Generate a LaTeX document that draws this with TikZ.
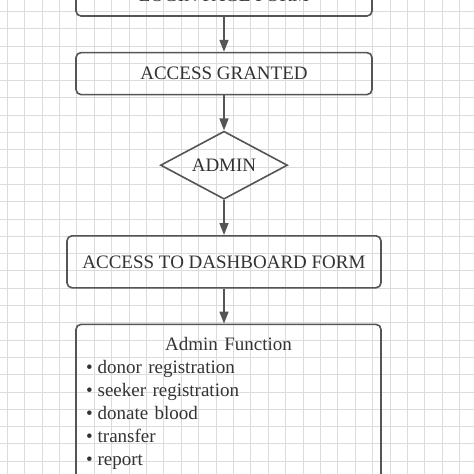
\documentclass[tikz,border=0pt]{standalone}
\usepackage{fontspec}
\setmainfont{Liberation Serif}
\usepackage{tikz}
\usetikzlibrary{positioning, calc, shapes.geometric, arrows.meta}

\definecolor{linegray}{HTML}{555555}
\definecolor{textgray}{HTML}{333333}
\definecolor{gridgray}{HTML}{DCDCDC}

\begin{document}
\begin{tikzpicture}[x=1pt, y=-1pt, node distance=35pt, auto, thick]
        % Define block styles
        \tikzstyle{block} = [rectangle, draw=linegray, line width=1.6pt, text=textgray, text centered, rounded corners=5pt, minimum width=296pt, minimum height=42pt, font=\fontsize{19}{23}\selectfont]
        \tikzstyle{choice} = [diamond, draw=linegray, line width=1.6pt, text=textgray, shape aspect=2, minimum width=127pt, minimum height=68pt, inner sep=0pt, font=\fontsize{19}{23}\selectfont]
        \tikzstyle{arrow} = [-{Triangle[length=12pt, width=9pt]}, draw=linegray, fill=linegray, line width=1.6pt]

        \clip (0,0) rectangle (474,474);
        \fill[white] (0,0) rectangle (474,474);

        % Background grid
        \foreach \gx in {0,...,27} \draw[gridgray, line width=0.6pt] (7+\gx*17.4,0) -- ++(0,474);
        \foreach \gy in {0,...,27} \draw[gridgray, line width=0.6pt] (0,11.2+\gy*17.3) -- ++(474,0);

        % Place nodes
        \node [block] (login) at (224,-5) {LOGIN PAGE FORM};
        \node [block, below=of login] (granted) {ACCESS GRANTED};
        \node [choice, below=of granted] (admin) {ADMIN};
        \node [block, below=of admin, minimum width=314pt, minimum height=52pt] (dash) {ACCESS TO DASHBOARD FORM};
        \node [block, below=of dash, xshift=4.5pt, minimum width=305pt, text width=285pt, align=left, inner xsep=10pt, inner ysep=13pt] (func)
            {\centerline{Admin Function}\par
             \textbullet\hspace{5pt}donor registration\\
             \textbullet\hspace{5pt}seeker registration\\
             \textbullet\hspace{5pt}donate blood\\
             \textbullet\hspace{5pt}transfer\\
             \textbullet\hspace{5pt}report\\[30pt]\mbox{}};

        % Draw connections as arrows
        \draw [arrow] (login) -- (granted);
        \draw [arrow] (granted) -- (admin);
        \draw [arrow] (admin) -- (dash);
        \draw [arrow] (dash) -- (dash |- func.north);
    \end{tikzpicture}
\end{document}
